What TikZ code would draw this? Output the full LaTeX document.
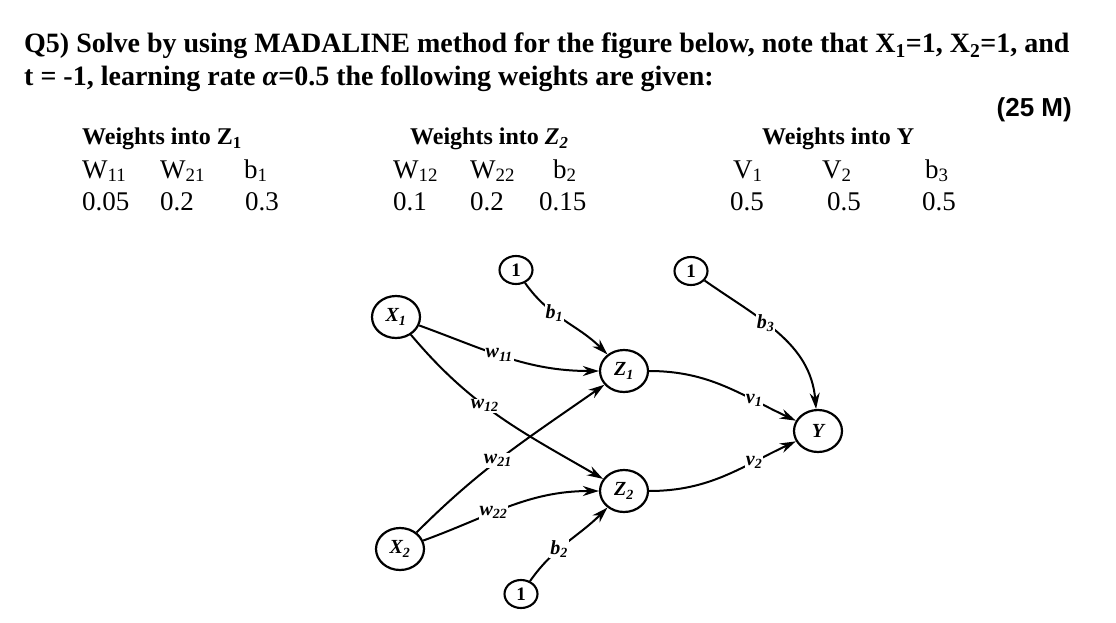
\documentclass[tikz,border=0pt]{standalone}
\usepackage{fontspec}
\setmainfont{Liberation Serif}
\newfontfamily\arialfont{Liberation Sans}
\usetikzlibrary{shapes.geometric,arrows.meta}

\begin{document}
\begin{tikzpicture}[x=1pt,y=-1pt,
  neuron/.style={draw,ellipse,line width=2.2pt,minimum width=48pt,minimum height=42pt,inner sep=0pt,font=\fontsize{20}{20}\selectfont\bfseries\itshape},
  unit/.style={draw,ellipse,line width=2.1pt,minimum width=33pt,minimum height=28pt,inner sep=0pt,font=\fontsize{19}{19}\selectfont\bfseries},
  wire/.style={line width=2pt,-{Stealth[length=16pt,width=10pt]}},
  wlabel/.style={fill=white,inner sep=1pt,font=\fontsize{20}{20}\selectfont\bfseries\itshape},
  question/.style={anchor=base west,inner sep=0pt,font=\fontsize{28}{28}\selectfont\bfseries},
  head/.style={anchor=base west,inner sep=0pt,font=\fontsize{24}{24}\selectfont\bfseries},
  entry/.style={anchor=base west,inner sep=0pt,font=\fontsize{27}{27}\selectfont}]
\useasboundingbox (0,0) rectangle (1116,623);

% question text
\node[question] (title1) at (24,53) {Q5) Solve by using MADALINE method for the figure below, note that X\textsubscript{1}=1, X\textsubscript{2}=1, and};
\node[question] (title2) at (24,86) {t = -1, learning rate \textit{α}=0.5 the following weights are given:};
\node[anchor=base east,inner sep=0pt,font=\fontsize{26}{26}\selectfont\arialfont\bfseries] (marks) at (1072,117) {(25 M)};

% weights into Z1
\node[head] (hz1) at (82,145) {Weights into Z\textsubscript{1}};
\node[entry] (w11) at (82,178) {W\textsubscript{11}};
\node[entry] (w21) at (160,178) {W\textsubscript{21}};
\node[entry] (b1) at (244,178) {b\textsubscript{1}};
\node[entry] (w11v) at (82,210) {0.05};
\node[entry] (w21v) at (160,210) {0.2};
\node[entry] (b1v) at (245,210) {0.3};

% weights into Z2
\node[head] (hz2) at (410,145) {Weights into \textit{Z\textsubscript{2}}};
\node[entry] (w12) at (393,178) {W\textsubscript{12}};
\node[entry] (w22) at (470,178) {W\textsubscript{22}};
\node[entry] (b2) at (553,178) {b\textsubscript{2}};
\node[entry] (w12v) at (393,210) {0.1};
\node[entry] (w22v) at (470,210) {0.2};
\node[entry] (b2v) at (539,210) {0.15};

% weights into Y
\node[head] (hy) at (762,145) {Weights into Y};
\node[entry] (v1) at (733,178) {V\textsubscript{1}};
\node[entry] (v2) at (822,178) {V\textsubscript{2}};
\node[entry] (b3) at (925,178) {b\textsubscript{3}};
\node[entry] (v1v) at (730,210) {0.5};
\node[entry] (v2v) at (827,210) {0.5};
\node[entry] (b3v) at (922,210) {0.5};

% network
\node[neuron] (X1) at (396,317) {X\textsubscript{1}};
\node[neuron] (X2) at (400,549) {X\textsubscript{2}};
\node[neuron] (Z1) at (624,371) {Z\textsubscript{1}};
\node[neuron] (Z2) at (624,491) {Z\textsubscript{2}};
\node[neuron] (Y) at (818,431) {Y};
\node[unit] (one1) at (516,270) {1};
\node[unit] (one2) at (521,594) {1};
\node[unit] (one3) at (691,271) {1};

\draw[wire] (X1) to[out=-20,in=180] node[wlabel,pos=0.45] {w\textsubscript{11}} (Z1);
\draw[wire] (X1) to[out=-50,in=150] node[wlabel,pos=0.42] {w\textsubscript{12}} (Z2);
\draw[wire] (X2) to[out=45,in=-145] node[wlabel,pos=0.45] {w\textsubscript{21}} (Z1);
\draw[wire] (X2) to[out=20,in=180] node[wlabel,pos=0.4] {w\textsubscript{22}} (Z2);
\draw[wire] (one1) to[out=-55,in=135] node[wlabel,pos=0.38] {b\textsubscript{1}} (Z1);
\draw[wire] (one2) to[out=55,in=-135] node[wlabel,pos=0.4] {b\textsubscript{2}} (Z2);
\draw[wire] (Z1) to[out=0,in=155] node[wlabel,pos=0.72] {v\textsubscript{1}} (Y);
\draw[wire] (Z2) to[out=0,in=-155] node[wlabel,pos=0.72] {v\textsubscript{2}} (Y);
\draw[wire] (one3) to[out=-35,in=95] node[wlabel,pos=0.4] {b\textsubscript{3}} (Y);

\end{tikzpicture}
\end{document}
